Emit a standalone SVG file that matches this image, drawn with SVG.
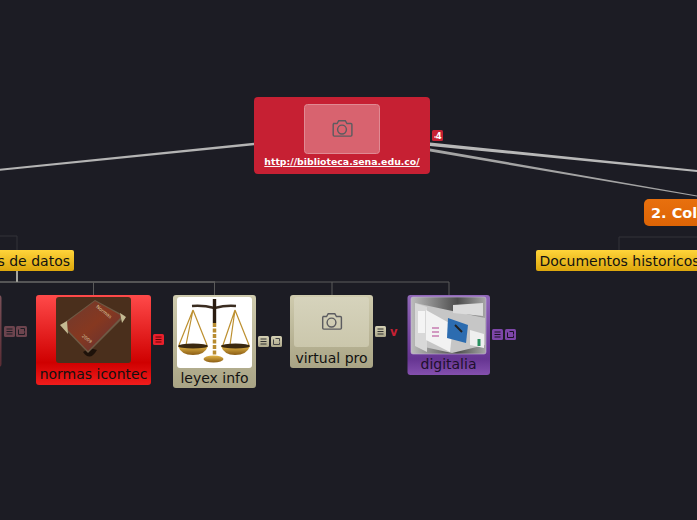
<svg xmlns="http://www.w3.org/2000/svg" width="697" height="520" viewBox="0 0 697 520">
<style>
text{font-family:"DejaVu Sans",sans-serif}
.lb{font-size:14px;fill:#111;text-anchor:middle}
.thin{fill:none;stroke:#333338;stroke-width:1}
.cam{fill:none;stroke:#5c5c60;stroke-width:1.300}
.str{stroke:#bd9030;stroke-width:1.200;fill:none}
</style>
<defs>
<linearGradient id="gY" x1="0" y1="0" x2="0" y2="1"><stop offset="0" stop-color="#ffd43a"/><stop offset="1" stop-color="#dca60c"/></linearGradient>
<linearGradient id="gR" x1="0" y1="0" x2="0" y2="1"><stop offset="0" stop-color="#ff4a4a"/><stop offset=".75" stop-color="#cf0000"/><stop offset="1" stop-color="#f01c1c"/></linearGradient>
<linearGradient id="gB" x1="0" y1="0" x2="0" y2="1"><stop offset="0" stop-color="#cfcbae"/><stop offset="1" stop-color="#a9a485"/></linearGradient>
<linearGradient id="gT" x1="0" y1="0" x2="0" y2="1"><stop offset="0" stop-color="#d6d3bc"/><stop offset="1" stop-color="#cbc7ac"/></linearGradient>
<linearGradient id="gI" x1="0" y1="0" x2="0" y2="1"><stop offset="0" stop-color="#d4d0b4"/><stop offset="1" stop-color="#aca78a"/></linearGradient>
<linearGradient id="gP" x1="0" y1="0" x2="0" y2="1"><stop offset="0" stop-color="#9068b8"/><stop offset=".8" stop-color="#663592"/><stop offset="1" stop-color="#8450ae"/></linearGradient>
<linearGradient id="gO" x1="0" y1="0" x2="0" y2="1"><stop offset="0" stop-color="#e8700e"/><stop offset="1" stop-color="#dd6405"/></linearGradient>
<linearGradient id="gD" x1="0" y1="0" x2="0" y2="1"><stop offset="0" stop-color="#7a5058"/><stop offset="1" stop-color="#5a2c34"/></linearGradient>
<linearGradient id="gS" x1="0" y1="0" x2="1" y2="0"><stop offset="0" stop-color="#bcbcbc"/><stop offset=".62" stop-color="#4c4c4c"/><stop offset="1" stop-color="#a8a8a8"/></linearGradient>
<linearGradient id="gG" x1="0" y1="0" x2="0" y2="1"><stop offset="0" stop-color="#e2b648"/><stop offset="1" stop-color="#8a5c14"/></linearGradient>
<linearGradient id="gBk" x1="0" y1="0" x2="1" y2="1"><stop offset="0" stop-color="#6c3a30"/><stop offset=".5" stop-color="#863820"/><stop offset="1" stop-color="#5c3038"/></linearGradient>
<g id="cam"><path class="cam" d="M-8-5h3.500l1.500-2.500h6l1.500 2.500h3.500q1 0 1 1v9.500q0 1-1 1h-15q-1 0-1-1v-9.500q0-1 1-1z"/><circle class="cam" cx="0" cy="0.500" r="4"/></g>
<g id="menu"><path d="M-3-2.500h6M-3 0h6M-3 2.500h6" fill="none" stroke-width="1.100"/></g>
<g id="ext"><path d="M-3-2v5h6v-2M-1-3h4v3" fill="none" stroke-width="1"/></g>
</defs>
<rect width="697" height="520" fill="#1c1c24"/>

<g id="connectors">
<path d="M254 142.800L0 168.700V170.700L254 145.200Z" fill="#b4b4b4"/>
<path d="M430 142.500L697 170V172L430 146Z" fill="#b8b8b8"/>
<path d="M430 148.500L697 195.500V196.500L430 151.500Z" fill="#a4a4a4"/>
<path class="thin" d="M619 250V237H697"/>
<path class="thin" d="M0 236H17V250"/>
<path d="M17 271V282" stroke="#d4d4c8" stroke-width="1.500" fill="none"/>
<path d="M0 282H215" stroke="#8e8e88" stroke-width="1.200" fill="none"/>
<path d="M215 282H449" stroke="#5c5c5c" stroke-width="1.100" fill="none"/>
<path d="M93.500 282V295M214.500 282V295M332 282V295M449 282V295" stroke="#5a5a5a" stroke-width="1" fill="none"/>
</g>

<g id="root">
<rect x="254" y="97" width="176" height="77" rx="4" fill="#c62033"/>
<rect x="304.500" y="104.500" width="75" height="49" rx="3" fill="#d8636f" stroke="#e08a93" stroke-width="1"/>
<use href="#cam" transform="translate(342 129) scale(1.100)"/>
<text x="342" y="165" font-size="9.350" font-weight="700" fill="#fff" text-anchor="middle" text-decoration="underline">http://biblioteca.sena.edu.co/</text>
<rect x="432" y="130" width="11" height="11" rx="1.500" fill="#c62033"/>
<path d="M434 137h2.500" stroke="#fff" stroke-width="1" fill="none"/>
<text x="438.800" y="139" font-size="8.500" font-weight="700" fill="#fff" text-anchor="middle">4</text>
</g>

<g id="colecciones">
<rect x="644" y="199" width="70" height="27" rx="5" fill="url(#gO)"/>
<text x="651" y="218" font-size="14.500" font-weight="700" fill="#fff">2. Cole</text>
</g>

<g id="documentos">
<rect x="536" y="250" width="190" height="21" rx="2" fill="url(#gY)"/>
<text x="539.500" y="266" font-size="14" fill="#111">Documentos historicos</text>
</g>

<g id="bases">
<rect x="-60" y="250" width="134" height="21" rx="2" fill="url(#gY)"/>
<text x="70" y="266" font-size="14" fill="#111" text-anchor="end">s de datos</text>
</g>

<g id="left-node">
<rect x="-60" y="295" width="61.500" height="72" rx="3" fill="url(#gD)"/>
<rect x="4" y="326" width="11" height="11" rx="1.500" fill="#6c444e"/>
<use href="#menu" x="9.500" y="331.500" stroke="#1c1c24"/>
<rect x="16" y="326" width="11" height="11" rx="1.500" fill="#6c444e"/>
<use href="#ext" x="21.500" y="331.500" stroke="#1c1c24"/>
</g>

<g id="normas">
<rect x="36" y="295" width="115" height="90" rx="3" fill="url(#gR)"/>
<rect x="56" y="297" width="75" height="66" rx="3" fill="#4a2f1c"/>
<path d="M83 352Q90 362 97 350L90 348Z" fill="#1e120a"/>
<path d="M61 325L95 300L125 316L88 353Z" fill="#6e5a44"/>
<path d="M63 325L95 301L122 316L88 351Z" fill="url(#gBk)"/>
<path d="M60 325L67 321L68 334ZM120 313L126 317L122 323Z" fill="#c4ba92"/>
<text x="103" y="313" font-size="4.800" fill="#d8c8a0" transform="rotate(38 103 313)" text-anchor="middle">Normas</text>
<text x="86" y="340" font-size="4.500" fill="#d8c8a0" transform="rotate(38 86 340)" text-anchor="middle">2009</text>
<text class="lb" x="93.500" y="379">normas icontec</text>
<rect x="153" y="334" width="11" height="11" rx="1.500" fill="#e8202c"/>
<use href="#menu" x="158.500" y="339.500" stroke="#600"/>
</g>

<g id="leyex">
<rect x="173" y="295" width="83" height="93" rx="3" fill="url(#gB)"/>
<rect x="177" y="297" width="75" height="71" rx="3" fill="#fff"/>
<path d="M192 306Q203 305 214.500 308Q226 305 236 306" fill="none" stroke="#3a2c20" stroke-width="2.400"/>
<rect x="212.800" y="299" width="3.400" height="24" fill="#2a1c10"/>
<path d="M214.500 323v36" stroke="#b88c30" stroke-width="3.500" stroke-dasharray="4 1.500" fill="none"/>
<ellipse cx="213.500" cy="359" rx="10" ry="3.500" fill="url(#gG)"/>
<path class="str" d="M193 310L179 345M193 310L186 345M193 310L207 345M235 310L223 345M235 310L230 345M235 310L249 345"/>
<path d="M178 346H208Q205 355 193 355Q181 355 178 346Z" fill="url(#gG)"/>
<ellipse cx="193" cy="346" rx="15" ry="2.500" fill="#3a2810"/>
<path d="M221 346H250Q247 355 235 355Q224 355 221 346Z" fill="url(#gG)"/>
<ellipse cx="235.500" cy="346" rx="14.500" ry="2.500" fill="#3a2810"/>
<text class="lb" x="214.500" y="383">leyex info</text>
<rect x="258" y="336" width="11" height="11" rx="1.500" fill="url(#gI)"/>
<use href="#menu" x="263.500" y="341.500" stroke="#333"/>
<rect x="271" y="336" width="11" height="11" rx="1.500" fill="url(#gI)"/>
<use href="#ext" x="276.500" y="341.500" stroke="#444"/>
</g>

<g id="virtualpro">
<rect x="290" y="295" width="83" height="73" rx="3" fill="url(#gB)"/>
<rect x="294" y="297" width="75" height="50" rx="3" fill="url(#gT)"/>
<use href="#cam" transform="translate(331.500 322) scale(1.100)"/>
<text class="lb" x="331.500" y="363">virtual pro</text>
<rect x="375" y="326" width="11" height="11" rx="1.500" fill="url(#gI)"/>
<use href="#menu" x="380.500" y="331.500" stroke="#333"/>
<text x="390" y="335.500" font-size="11.500" font-weight="700" fill="#c62033">v</text>
</g>

<g id="digitalia">
<rect x="407.500" y="295" width="82.500" height="80" rx="3" fill="url(#gP)"/>
<rect x="411" y="297" width="75" height="57" rx="2" fill="url(#gS)" stroke="#c8b4dc" stroke-width=".6"/>
<path d="M415 303L485 318V345L452 353L415 345Z" fill="#c6c6c6"/>
<path d="M415 303L427 307V352L415 346Z" fill="#d8d8d8"/>
<path d="M426 310L453 325L450 352L426 340Z" fill="#f2f2f2"/>
<path d="M448 318L468 325L466 343L447 338Z" fill="#2c6cb0"/>
<path d="M455 325L462 332" stroke="#222" stroke-width="2"/>
<path d="M453 305L483 303V316L453 313Z" fill="#dcdcdc"/>
<path d="M470 330L484 334V348L470 345Z" fill="#efefef"/>
<path d="M418 311H425V333H418Z" fill="#f4f4f4"/>
<path d="M432 328h7M432 332h7M432 336h7" stroke="#b04090" stroke-width="1"/>
<path d="M479 339V346" stroke="#2a9060" stroke-width="3"/>
<text x="448.500" y="369" font-size="14" fill="#20102c" text-anchor="middle">digitalia</text>
<rect x="492" y="329" width="11" height="11" rx="1.500" fill="#7d46a8"/>
<use href="#menu" x="497.500" y="334.500" stroke="#1c1024"/>
<rect x="505" y="329" width="11" height="11" rx="1.500" fill="#7d46a8"/>
<use href="#ext" x="510.500" y="334.500" stroke="#1c1024"/>
</g>
</svg>
